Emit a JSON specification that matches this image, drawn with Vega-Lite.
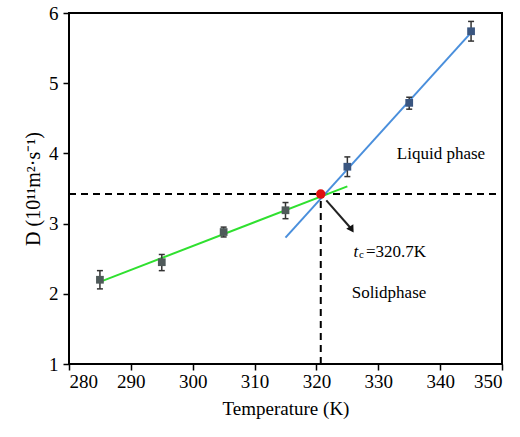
{
  "$schema": "https://vega.github.io/schema/vega-lite/v6.json",
  "width": 433,
  "height": 351,
  "autosize": "none",
  "padding": {"left": 69, "top": 13, "right": 18, "bottom": 73},
  "background": "white",
  "config": {
    "view": {"stroke": "black", "strokeWidth": 2},
    "font": "Liberation Serif",
    "axis": {
      "grid": false,
      "domain": false,
      "tickColor": "black",
      "tickWidth": 1.5,
      "labelColor": "black",
      "titleColor": "black",
      "labelFont": "Liberation Serif",
      "titleFont": "Liberation Serif",
      "labelFontSize": 19,
      "titleFontSize": 19,
      "titleFontWeight": "normal"
    }
  },
  "datasets": {
    "pts": [
      {"T": 285, "D": 2.20, "lo": 2.07, "hi": 2.33, "phase": "solid"},
      {"T": 295, "D": 2.45, "lo": 2.33, "hi": 2.56, "phase": "solid"},
      {"T": 305, "D": 2.88, "lo": 2.81, "hi": 2.95, "phase": "solid"},
      {"T": 315, "D": 3.19, "lo": 3.07, "hi": 3.30, "phase": "solid"},
      {"T": 325, "D": 3.81, "lo": 3.67, "hi": 3.95, "phase": "liquid"},
      {"T": 335, "D": 4.72, "lo": 4.63, "hi": 4.80, "phase": "liquid"},
      {"T": 345, "D": 5.74, "lo": 5.60, "hi": 5.88, "phase": "liquid"}
    ],
    "fits": [
      {"T": 285, "D": 2.17, "fit": "solid fit"},
      {"T": 325, "D": 3.53, "fit": "solid fit"},
      {"T": 315, "D": 2.80, "fit": "liquid fit"},
      {"T": 345, "D": 5.72, "fit": "liquid fit"}
    ],
    "hdash": [{"x": 280, "x2": 350, "y": 3.42}],
    "vdash": [{"x": 320.7, "y": 1, "y2": 3.42}],
    "cross": [{"T": 320.7, "D": 3.42}],
    "arrow": [{"x": 321.6, "y": 3.33, "x2": 325.6, "y2": 2.93}],
    "labels": [
      {"T": 333, "D": 3.99, "text": "Liquid phase"},
      {"T": 325.7, "D": 2.01, "text": "Solidphase"},
      {"T": 328.0, "D": 2.6, "text": "=320.7K"}
    ],
    "tlab": [{"T": 326.0, "D": 2.6, "text": "t"}],
    "clab": [{"T": 326.9, "D": 2.55, "text": "c"}]
  },
  "encoding": {},
  "layer": [
    {
      "data": {"name": "hdash"},
      "mark": {"type": "rule", "color": "black", "strokeWidth": 2, "strokeDash": [7, 5]},
      "encoding": {
        "x": {"field": "x", "type": "quantitative", "scale": {"domain": [280, 350], "nice": false},
          "axis": {
            "title": "Temperature (K)",
            "values": [280, 285, 290, 295, 300, 305, 310, 315, 320, 325, 330, 335, 340, 345, 350],
            "labelExpr": "datum.value % 10 === 0 ? datum.label : ''",
            "tickSize": {"condition": {"test": "datum.value % 10 === 0", "value": 6}, "value": 4},
            "labelPadding": 2,
            "titlePadding": 8
          }},
        "x2": {"field": "x2"},
        "y": {"field": "y", "type": "quantitative", "scale": {"domain": [1, 6], "nice": false},
          "axis": {
            "title": "D (10¹¹m²·s⁻¹)",
            "titleFontSize": 20,
            "format": ".0f",
            "values": [1, 1.5, 2, 2.5, 3, 3.5, 4, 4.5, 5, 5.5, 6],
            "labelExpr": "datum.value % 1 === 0 ? datum.label : ''",
            "tickSize": {"condition": {"test": "datum.value % 1 === 0", "value": 6}, "value": 3},
            "labelPadding": 5,
            "titlePadding": 5
          }}
      }
    },
    {
      "data": {"name": "vdash"},
      "mark": {"type": "rule", "color": "black", "strokeWidth": 2, "strokeDash": [7, 5]},
      "encoding": {
        "x": {"field": "x", "type": "quantitative"},
        "y": {"field": "y", "type": "quantitative"},
        "y2": {"field": "y2"}
      }
    },
    {
      "data": {"name": "fits"},
      "mark": {"type": "line", "strokeWidth": 2},
      "encoding": {
        "x": {"field": "T", "type": "quantitative"},
        "y": {"field": "D", "type": "quantitative"},
        "detail": {"field": "fit"},
        "color": {"field": "fit", "type": "nominal",
          "scale": {"domain": ["solid fit", "liquid fit"], "range": ["#2fe02f", "#4a8fdc"]},
          "legend": null}
      }
    },
    {
      "data": {"name": "pts"},
      "mark": {"type": "rule", "color": "#333333", "strokeWidth": 1.5},
      "encoding": {
        "x": {"field": "T", "type": "quantitative"},
        "y": {"field": "lo", "type": "quantitative"},
        "y2": {"field": "hi"}
      }
    },
    {
      "data": {"name": "pts"},
      "mark": {"type": "point", "shape": "M-1,0L1,0", "size": 36, "stroke": "#333333", "strokeWidth": 1.5, "filled": false, "opacity": 1},
      "encoding": {
        "x": {"field": "T", "type": "quantitative"},
        "y": {"field": "lo", "type": "quantitative"}
      }
    },
    {
      "data": {"name": "pts"},
      "mark": {"type": "point", "shape": "M-1,0L1,0", "size": 36, "stroke": "#333333", "strokeWidth": 1.5, "filled": false, "opacity": 1},
      "encoding": {
        "x": {"field": "T", "type": "quantitative"},
        "y": {"field": "hi", "type": "quantitative"}
      }
    },
    {
      "data": {"name": "pts"},
      "mark": {"type": "point", "shape": "square", "size": 60, "filled": true, "opacity": 1, "strokeWidth": 0},
      "encoding": {
        "x": {"field": "T", "type": "quantitative"},
        "y": {"field": "D", "type": "quantitative"},
        "fill": {"field": "phase", "type": "nominal",
          "scale": {"domain": ["solid", "liquid"], "range": ["#4f5a5a", "#3a5680"]},
          "legend": null}
      }
    },
    {
      "data": {"name": "arrow"},
      "mark": {"type": "rule", "color": "#222222", "strokeWidth": 2},
      "encoding": {
        "x": {"field": "x", "type": "quantitative"},
        "y": {"field": "y", "type": "quantitative"},
        "x2": {"field": "x2"},
        "y2": {"field": "y2"}
      }
    },
    {
      "data": {"name": "arrow"},
      "mark": {"type": "point", "shape": "triangle", "size": 70, "filled": true, "color": "#111111", "opacity": 1, "angle": 148},
      "encoding": {
        "x": {"field": "x2", "type": "quantitative"},
        "y": {"field": "y2", "type": "quantitative"}
      }
    },
    {
      "data": {"name": "cross"},
      "mark": {"type": "point", "shape": "circle", "size": 90, "filled": true, "color": "#e01010", "opacity": 1},
      "encoding": {
        "x": {"field": "T", "type": "quantitative"},
        "y": {"field": "D", "type": "quantitative"}
      }
    },
    {
      "data": {"name": "labels"},
      "mark": {"type": "text", "align": "left", "baseline": "middle", "fontSize": 17, "font": "Liberation Serif", "color": "black"},
      "encoding": {
        "x": {"field": "T", "type": "quantitative"},
        "y": {"field": "D", "type": "quantitative"},
        "text": {"field": "text"}
      }
    },
    {
      "data": {"name": "tlab"},
      "mark": {"type": "text", "align": "left", "baseline": "middle", "fontSize": 17, "fontStyle": "italic", "font": "Liberation Serif", "color": "black"},
      "encoding": {
        "x": {"field": "T", "type": "quantitative"},
        "y": {"field": "D", "type": "quantitative"},
        "text": {"field": "text"}
      }
    },
    {
      "data": {"name": "clab"},
      "mark": {"type": "text", "align": "left", "baseline": "middle", "fontSize": 11, "font": "Liberation Serif", "color": "black"},
      "encoding": {
        "x": {"field": "T", "type": "quantitative"},
        "y": {"field": "D", "type": "quantitative"},
        "text": {"field": "text"}
      }
    }
  ]
}
